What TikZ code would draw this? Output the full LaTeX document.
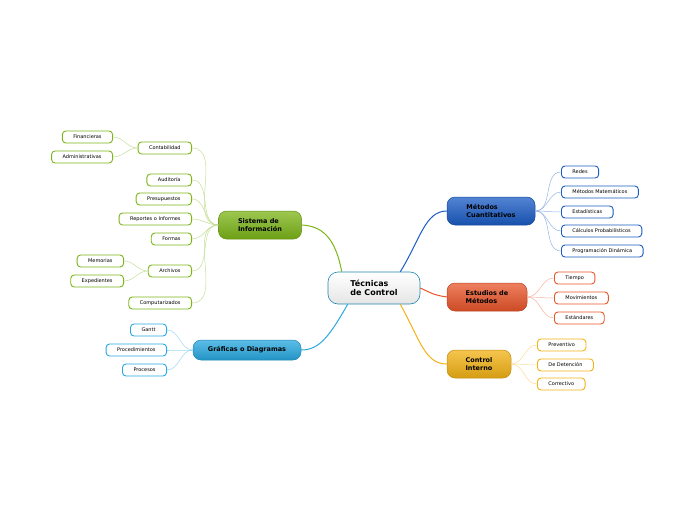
\documentclass[tikz,border=0pt]{standalone}
\usepackage{fontspec}
\setmainfont{DejaVu Sans}
\begin{document}
\begin{tikzpicture}[x=1pt,y=-1pt,
 leaf/.style={draw=#1,line width=0.9pt,fill=white,rounded corners=3.5pt,minimum height=12pt,inner xsep=11pt,inner ysep=0pt,font=\fontsize{5}{6}\selectfont},
 main/.style={draw=#1!80!black,line width=0.5pt,top color=#1!75!white,bottom color=#1!88!black,rounded corners=8pt,minimum height=28pt,align=left,font=\bfseries\fontsize{6.5}{7.5}\selectfont,text=black},
 lk/.style={draw=#1!45!white,line width=0.5pt},
 mk/.style={draw=#1,line width=1pt}]
\useasboundingbox (0,0) rectangle (697,520);
\definecolor{cg}{HTML}{7CB518}\definecolor{cb}{HTML}{27A8E0}\definecolor{cd}{HTML}{1A5BC4}
\definecolor{co}{HTML}{E8552A}\definecolor{cy}{HTML}{F2B214}
\node[draw=cb!80!black,line width=0.6pt,top color=white,bottom color=gray!20,rounded corners=10pt,minimum width=92pt,minimum height=32pt,align=left,font=\bfseries\fontsize{8}{9}\selectfont] (c) at (374,288) {Técnicas\\de Control};
\node[main=cg,minimum width=83pt] (s) at (260,225) {Sistema de\\Información};
\node[main=cb,minimum width=108pt,minimum height=20pt] (g) at (247,350) {Gráficas o Diagramas};
\node[main=cd,minimum width=88pt] (m) at (491,211) {Métodos\\Cuantitativos};
\node[main=co,minimum width=80pt] (e) at (487,297) {Estudios de\\Métodos};
\node[main=cy,minimum width=64pt] (ci) at (479,364) {Control\\Interno};
\draw[mk=cg] (c.north west)++(14,0) coordinate (c1);
\draw[mk=cg] (c1) .. controls (335,235) and (320,226) .. (s.east);
\draw[mk=cb] (c.south west)++(20,0) coordinate (c2);
\draw[mk=cb] (c2) .. controls (330,335) and (320,350) .. (g.east);
\draw[mk=cd] (c.north east)++(-20,0) coordinate (c3);
\draw[mk=cd] (c3) .. controls (420,240) and (425,211) .. (m.west);
\draw[mk=co] (c.east) .. controls (435,295) .. (e.west);
\draw[mk=cy] (c.south east)++(-20,0) coordinate (c5);
\draw[mk=cy] (c5) .. controls (420,340) and (425,364) .. (ci.west);
% green
\foreach \n/\t/\x/\y in {con/Contabilidad/166/148,aud/Auditoría/171/180,pre/Presupuestos/163/199,rep/Reportes o Informes/154/219,for/Formas/173/239,arc/Archivos/171/271,com/Computarizados/160/303}{
 \node[leaf=cg,anchor=east] (\n) at (192,\y) {\t};
 \draw[lk=cg] (s.west) to[out=180,in=0] (\n.east);}
\node[leaf=cg,anchor=east] (fin) at (113,137) {Financieras};
\node[leaf=cg,anchor=east] (adm) at (113,157) {Administrativas};
\node[leaf=cg,anchor=east] (mem) at (124,261) {Memorias};
\node[leaf=cg,anchor=east] (exp) at (124,281) {Expedientes};
\foreach \a/\b in {con/fin,con/adm,arc/mem,arc/exp} \draw[lk=cg] (\a.west) to[out=180,in=0] (\b.east);
% blue
\foreach \n/\t/\y in {gan/Gantt/330,pro/Procedimientos/350,prc/Procesos/370}{
 \node[leaf=cb,anchor=east] (\n) at (167,\y) {\t};
 \draw[lk=cb] (g.west) to[out=180,in=0] (\n.east);}
% dark blue
\foreach \n/\t/\y in {red/Redes/172,mm/Métodos Matemáticos/192,est/Estadísticas/212,cal/Cálculos Probabilísticos/231,pd/Programación Dinámica/251}{
 \node[leaf=cd,anchor=west] (\n) at (561,\y) {\t};
 \draw[lk=cd] (m.east) to[out=0,in=180] (\n.west);}
% orange
\foreach \n/\t/\y in {tie/Tiempo/278,mov/Movimientos/298,esd/Estándares/318}{
 \node[leaf=co,anchor=west] (\n) at (554,\y) {\t};
 \draw[lk=co] (e.east) to[out=0,in=180] (\n.west);}
% yellow
\foreach \n/\t/\y in {prv/Preventivo/345,det/De Detención/365,cor/Correctivo/384}{
 \node[leaf=cy,anchor=west] (\n) at (537,\y) {\t};
 \draw[lk=cy] (ci.east) to[out=0,in=180] (\n.west);}
\end{tikzpicture}
\end{document}
